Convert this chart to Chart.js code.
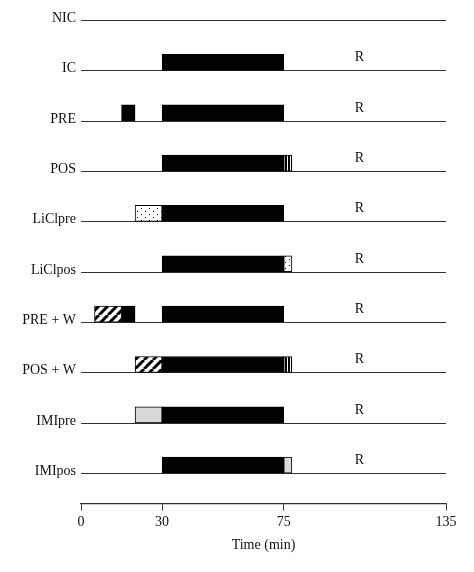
<!DOCTYPE html>
<html><head><meta charset="utf-8">
<script src="https://cdn.jsdelivr.net/npm/chart.js@4"></script>
<style>html,body{margin:0;padding:0;background:#fff}#c{display:block}</style>
</head><body>
<div style="width:474px;height:572px"><canvas id="c"></canvas></div>
<script>
const rows = ["NIC","IC","PRE","POS","LiClpre","LiClpos","PRE + W","POS + W","IMIpre","IMIpos"];
const mainBlack = [null,[30,75],[30,75],[30,75],[30,75],[30,75],[30,75],[30,75],[30,75],[30,75]];
const earlyBlack = [null,null,[15,20],null,null,null,[15,20],null,null,null];
const hatched = [null,null,null,null,null,null,[5,15],[20,30],null,null];
const dotted = [null,null,null,null,[20,30],[75,78],null,null,null,null];
const striped = [null,null,null,[75,78],null,null,null,[75,78],null,null];
const grey = [null,null,null,null,null,null,null,null,[20,30],[75,78]];
const hasR = [false,true,true,true,true,true,true,true,true,true];
const rPos = 103;
const xTicks = [0,30,75,135];

function pat(kind){
  const c=document.createElement('canvas');const g=c.getContext('2d');
  if(kind==='dots'){c.width=8;c.height=6;g.fillStyle='#fff';g.fillRect(0,0,8,6);g.fillStyle='#000';g.fillRect(1,1,1,1);g.fillRect(5,4,1,1);}
  if(kind==='hatch'){c.width=9;c.height=9;g.fillStyle='#fff';g.fillRect(0,0,9,9);g.strokeStyle='#000';g.lineWidth=3;
    g.beginPath();for(let k=-9;k<=18;k+=9){g.moveTo(k,9);g.lineTo(k+9,0);}g.stroke();}
  if(kind==='stripes'){c.width=3;c.height=4;g.fillStyle='#fff';g.fillRect(0,0,3,4);g.fillStyle='#000';g.fillRect(0,0,2,4);}
  return document.getElementById('c').getContext('2d').createPattern(c,'repeat');
}
const toPts = a => a.map((v,i)=>v?{x:v,y:i}:null).filter(Boolean);
const ds = (data,bg)=>({data:toPts(data),backgroundColor:bg,borderColor:'#000',borderWidth:1,borderSkipped:false,barThickness:16,grouped:false});

const deco={id:'deco',beforeDatasetsDraw(ch){
  const g=ch.ctx,x=ch.scales.x,y=ch.scales.y;
  g.save();g.strokeStyle='#333';g.lineWidth=1.2;g.fillStyle='#111';
  rows.forEach((r,i)=>{
    const py=Math.round(y.getPixelForValue(i))+8.5;
    g.beginPath();g.moveTo(x.getPixelForValue(0),py);g.lineTo(x.getPixelForValue(135),py);g.stroke();
    g.font='14px "Liberation Serif"';g.textAlign='right';g.textBaseline='middle';
    g.fillText(r,x.getPixelForValue(0)-5,py-2);
    if(hasR[i]){g.textAlign='center';g.fillText('R',x.getPixelForValue(rPos),py-13);}
  });
  g.restore();}};

new Chart(document.getElementById('c'),{type:'bar',
 data:{datasets:[ds(mainBlack,'#000'),ds(earlyBlack,'#000'),ds(hatched,pat('hatch')),ds(dotted,pat('dots')),ds(striped,pat('stripes')),ds(grey,'#d9d9d9')]},
 options:{indexAxis:'y',responsive:true,maintainAspectRatio:false,animation:false,
  layout:{padding:{left:81,right:28,top:0,bottom:14}},
  plugins:{legend:{display:false},tooltip:{enabled:false}},
  scales:{
   y:{type:'linear',reverse:true,offset:false,min:-0.24,max:9.76,display:false},
   x:{type:'linear',min:0,max:135,
      afterBuildTicks:s=>{s.ticks=xTicks.map(v=>({value:v}));},
      grid:{drawOnChartArea:false,drawTicks:true,tickLength:7,color:'#333'},
      border:{color:'#333',width:1.2},
      ticks:{color:'#111',font:{family:'"Liberation Serif"',size:14},maxRotation:0,padding:4},
      title:{display:true,text:'Time (min)',color:'#111',font:{family:'"Liberation Serif"',size:14},padding:{top:2}}}}},
 plugins:[deco]});
</script></body></html>
